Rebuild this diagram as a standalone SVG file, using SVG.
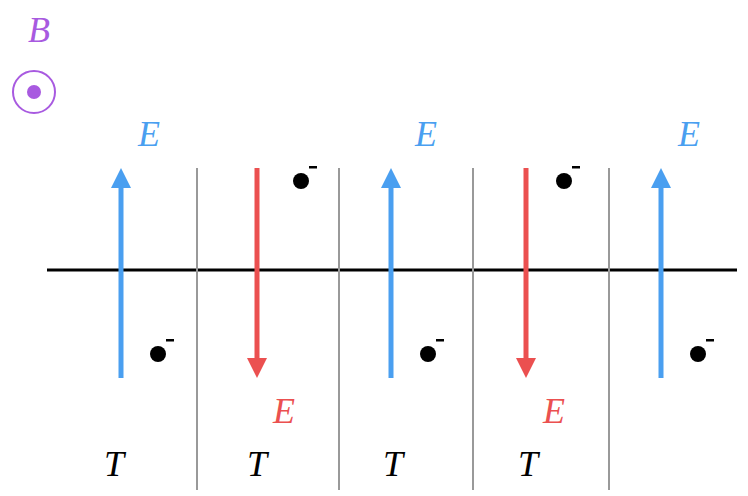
<svg xmlns="http://www.w3.org/2000/svg" width="748" height="496" viewBox="0 0 748 496">
<style>
.m{font-family:'Liberation Serif','DejaVu Serif',serif;font-style:italic;font-size:36px}
.b{fill:#4a9ff0}.r{fill:#eb5050}.k{fill:#000}
.g{stroke:#999;stroke-width:2}
</style>
<g id="field-B">
<text class="m" x="28" y="42" fill="#a85ae0">B</text>
<circle cx="34" cy="92" r="21" fill="none" stroke="#a85ae0" stroke-width="2"/>
<circle cx="34" cy="92" r="7" fill="#a85ae0"/>
</g>
<g id="connectors">
<line x1="47" y1="270" x2="737" y2="270" stroke="#000" stroke-width="3"/>
<line class="g" x1="197" y1="168" x2="197" y2="490"/>
<line class="g" x1="339" y1="168" x2="339" y2="490"/>
<line class="g" x1="473" y1="168" x2="473" y2="490"/>
<line class="g" x1="609" y1="168" x2="609" y2="490"/>
<g stroke="#4a9ff0" stroke-width="5">
<line x1="121" y1="378" x2="121" y2="180"/><line x1="391" y1="378" x2="391" y2="180"/><line x1="661" y1="378" x2="661" y2="180"/>
</g>
<g fill="#4a9ff0"><path d="M111,188L121,168L131,188z"/><path d="M381,188L391,168L401,188z"/><path d="M651,188L661,168L671,188z"/></g>
<g stroke="#eb5050" stroke-width="5">
<line x1="257" y1="168" x2="257" y2="366"/><line x1="526" y1="168" x2="526" y2="366"/>
</g>
<g fill="#eb5050"><path d="M247,358L257,378L267,358z"/><path d="M516,358L526,378L536,358z"/></g>
</g>
<g id="labels">
<text class="m b" x="138" y="146">E</text>
<text class="m b" x="415" y="146">E</text>
<text class="m b" x="678" y="146">E</text>
<text class="m r" x="273" y="423">E</text>
<text class="m r" x="543" y="423">E</text>
<text class="m k" x="104" y="476">T</text>
<text class="m k" x="247" y="476">T</text>
<text class="m k" x="383" y="476">T</text>
<text class="m k" x="518" y="476">T</text>
</g>
<g id="electrons">
<circle cx="158" cy="354" r="8"/><rect x="166" y="339" width="8" height="2.5"/>
<circle cx="301" cy="181" r="8"/><rect x="309" y="166" width="8" height="2.5"/>
<circle cx="428" cy="354" r="8"/><rect x="436" y="339" width="8" height="2.5"/>
<circle cx="564" cy="181" r="8"/><rect x="572" y="166" width="8" height="2.5"/>
<circle cx="698" cy="354" r="8"/><rect x="706" y="339" width="8" height="2.5"/>
</g>
</svg>
